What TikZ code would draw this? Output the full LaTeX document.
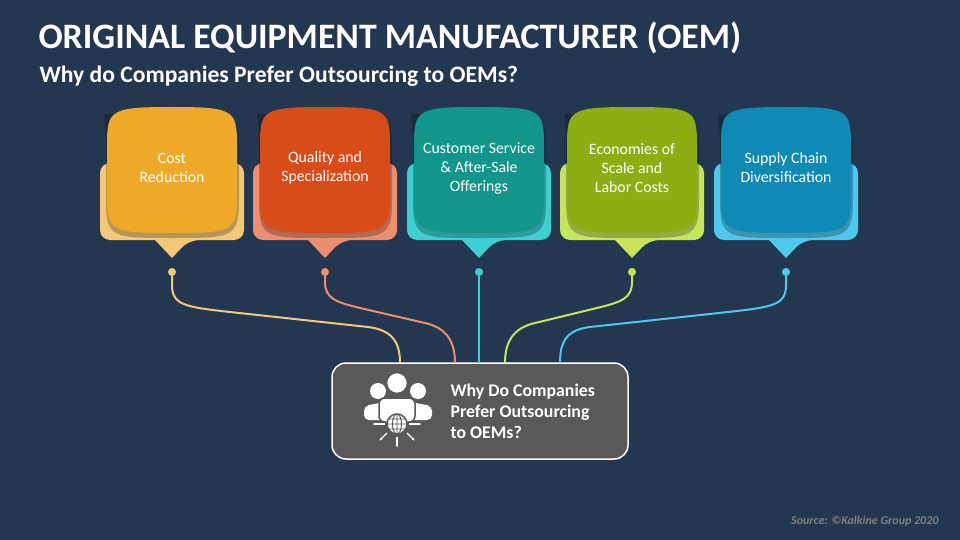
\documentclass[tikz,border=0pt]{standalone}
\usepackage{fontspec}
\setmainfont{Carlito}
\usetikzlibrary{arrows.meta}
\definecolor{bg}{HTML}{243750}
\definecolor{mA}{HTML}{EFA928}\definecolor{bA}{HTML}{F5C878}
\definecolor{mB}{HTML}{D84C1A}\definecolor{bB}{HTML}{EE8E70}
\definecolor{mC}{HTML}{12958A}\definecolor{bC}{HTML}{3DD0D0}
\definecolor{mD}{HTML}{8BAF12}\definecolor{bD}{HTML}{C5E65A}
\definecolor{mE}{HTML}{0F8AB5}\definecolor{bE}{HTML}{4FC8EE}
\tikzset{
 lbl/.style={text=white,font=\fontsize{15.8}{19}\selectfont,align=center},
 conn/.style={line width=2pt},
 dot/.style={circle,inner sep=0pt,minimum size=8pt},
}
\newcommand{\card}[5]{% x, main, back, name, text
 \fill[#3,rounded corners=10pt] (#1-72,163) -- (#1+72,163) -- (#1+72,240) -- (#1+17,240) [sharp corners]-- (#1,258) -- (#1-17,240) [rounded corners=10pt]-- (#1-72,240) -- cycle;
 \fill[black,opacity=0.25] (#1-62,114) .. controls (#1-72,114) and (#1-66,112) .. (#1-66,145) -- (#1-66,200) .. controls (#1-66,238) and (#1-60,238) .. (#1,238) .. controls (#1+60,238) and (#1+67,238) .. (#1+67,200) -- (#1+67,145) .. controls (#1+67,112) and (#1+60,112) .. (#1,112) -- cycle;
 \fill[#2] (#1,107) .. controls (#1+62,107) and (#1+65,110) .. (#1+65,145) -- (#1+65,195) .. controls (#1+65,231) and (#1+62,233) .. (#1,233) .. controls (#1-62,233) and (#1-65,231) .. (#1-65,195) -- (#1-65,145) .. controls (#1-65,110) and (#1-62,107) .. (#1,107) -- cycle;
 \node[lbl] (#4) at (#1,168) {#5};
 \node[dot,fill=#3] (#4d) at (#1,272) {};
}
\begin{document}
\begin{tikzpicture}[x=1pt,y=-1pt]
\fill[bg] (0,0) rectangle (960,540);
\useasboundingbox (0,0) rectangle (960,540);
\node[anchor=west,text=white,font=\fontsize{35.8}{40}\bfseries\selectfont] (title) at (35,38) {ORIGINAL EQUIPMENT MANUFACTURER (OEM)};
\node[anchor=west,text=white,font=\fontsize{23.6}{27}\bfseries\selectfont] (sub) at (36,76) {Why do Companies Prefer Outsourcing to OEMs?};
\card{172}{mA}{bA}{c1}{Cost\\Reduction}
\card{325}{mB}{bB}{c2}{Quality and\\Specialization}
\card{479}{mC}{bC}{c3}{Customer Service\\\& After-Sale\\Offerings}
\card{632}{mD}{bD}{c4}{Economies of\\Scale and\\Labor Costs}
\card{786}{mE}{bE}{c5}{Supply Chain\\Diversification}
\node[draw=white,line width=1.5pt,fill=black!65,rounded corners=14pt,minimum width=296pt,minimum height=96pt] (box) at (480,411) {};
\node[anchor=west,text=white,font=\fontsize{17.8}{21}\bfseries\selectfont,align=left] (btxt) at (447,411) {Why Do Companies\\Prefer Outsourcing\\to OEMs?};
\coordinate (e1) at (400,363);\coordinate (e2) at (455,363);\coordinate (e3) at (479,363);
\coordinate (e4) at (505,363);\coordinate (e5) at (560,363);
\draw[conn,bA] (c1d) -- (172,285) .. controls (172,305) and (185,307) .. (230,312) -- (368,327) .. controls (392,330) and (400,342) .. (e1);
\draw[conn,bB] (c2d) -- (325,282) .. controls (325,298) and (335,302) .. (360,308) -- (425,323) .. controls (447,328) and (455,342) .. (e2);
\draw[conn,bC] (c3d) -- (e3);
\draw[conn,bD] (c4d) -- (632,282) .. controls (632,298) and (622,302) .. (597,308) -- (535,323) .. controls (513,328) and (505,342) .. (e4);
\draw[conn,bE] (c5d) -- (786,285) .. controls (786,305) and (773,307) .. (728,312) -- (590,327) .. controls (566,330) and (560,342) .. (e5);
% icon
\begin{scope}[white]
\fill (378,391) circle (8);\fill (418,391) circle (8);
\fill[rounded corners=5pt] (364,420) -- (364,406) -- (390,401) -- (390,420) -- cycle;
\fill[rounded corners=5pt] (405,420) -- (405,401) -- (432,406) -- (432,420) -- cycle;
\draw[black!65,line width=1.5pt,fill=white] (397,383) circle (10.5);
\fill[rounded corners=6pt,draw=black!65,line width=1.5pt] (379,422) -- (379,398) -- (415,398) -- (415,422) -- cycle;
\draw[black!65,line width=1.5pt,fill=white] (397,424) circle (10);
\draw[black!65,line width=0.9pt] (397,414) -- (397,434) (387,424) -- (407,424) (389,419) -- (405,419) (389,429) -- (405,429)
 (397,424) ellipse (4.5 and 10);
\draw[-{Latex[length=3.5pt]},line width=1.2pt] (385,424) -- (372,424);
\draw[-{Latex[length=3.5pt]},line width=1.2pt] (409,424) -- (422,424);
\draw[-{Latex[length=3.5pt]},line width=1.2pt] (397,437) -- (397,448);
\draw[-{Latex[length=3.5pt]},line width=1.2pt] (387,433) -- (379,441);
\draw[-{Latex[length=3.5pt]},line width=1.2pt] (407,433) -- (415,441);
\end{scope}
\node[anchor=east,text=gray,font=\fontsize{12}{14}\bfseries\itshape\selectfont] (src) at (942,521) {Source: ©Kalkine Group 2020};
\end{tikzpicture}
\end{document}
